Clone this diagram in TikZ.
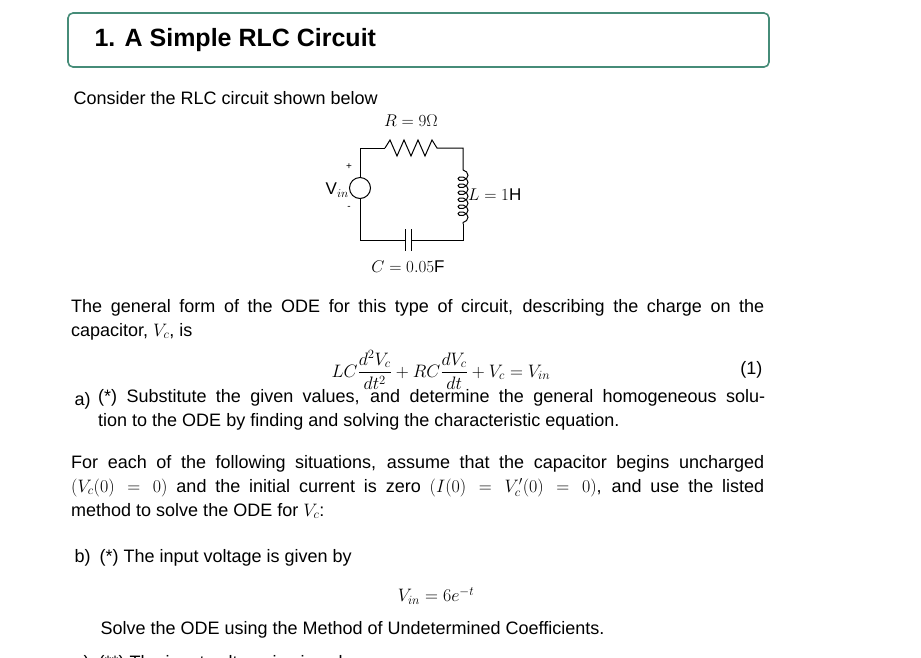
\documentclass[tikz,border=0pt]{standalone}
\usepackage{fix-cm}
\usepackage{amsmath}
\usepackage{fontspec}
\setmainfont{Liberation Sans}
\usetikzlibrary{decorations.pathmorphing}
\tikzset{
 para/.style={anchor=north west,inner sep=0pt,text width=693pt,align=justify,font=\fontsize{18}{24}\selectfont},
 txt/.style={font=\fontsize{18}{22}\selectfont},
 wire/.style={line width=1pt},
 lbl/.style={font=\fontsize{17}{19}\selectfont,inner sep=1pt}
}
\begin{document}
\begin{tikzpicture}[x=1pt,y=-1pt]
\useasboundingbox (0,0) rectangle (921,657);
\clip (0,0) rectangle (921,657);
\fill[white] (0,0) rectangle (921,657);
% title
\draw[rounded corners=5pt,line width=1.6pt,draw={rgb,255:red,70;green,140;blue,120}] (68,13) rectangle (769,67);
\node[anchor=west,font=\fontsize{25}{28}\selectfont\bfseries] (title) at (91,40) {1. A Simple RLC Circuit};
\node[anchor=west,txt] (cons) at (70,98) {Consider the RLC circuit shown below};
% circuit
\coordinate (tl) at (360,148); \coordinate (tr) at (463,148);
\coordinate (bl) at (360,240); \coordinate (br) at (463,240);
\node[circle,draw,line width=1pt,minimum size=21pt,inner sep=0pt] (src) at (360,188) {};
\draw[wire] (src.north) -- (tl) -- (385,148);
\draw[wire] (385,148) -- (390,140) -- (397,156) -- (404,140) -- (411,156) -- (418,140) -- (425,156) -- (432,140) -- (437,148) -- (tr) -- (463,170);
\draw[wire,decorate,decoration={coil,aspect=0.7,segment length=7pt,amplitude=5pt}] (463,170) -- (463,224);
\draw[wire] (463,224) -- (br) -- (411,240);
\draw[wire] (src.south) -- (bl) -- (405,240);
\draw[wire] (405,229) -- (405,251) (411,229) -- (411,251);
\node[lbl] (rl) at (411,121) {$R=9\Omega$};
\node[lbl,anchor=west] (ll) at (467,195) {$L=1\mathrm{H}$};
\node[lbl] (cl) at (408,267) {$C=0.05\mathrm{F}$};
\node[lbl,anchor=east] (vl) at (350,190) {$\mathrm{V}_{in}$};
\node[font=\fontsize{10}{10}\selectfont] (pl) at (349,167) {+};
\node[font=\fontsize{10}{10}\selectfont] (ml) at (349,208) {-};
% text
\node[para] (p1) at (71,299) {The general form of the ODE for this type of circuit, describing the charge on the\linebreak capacitor, $V_c$, is};
\node[txt] (eq) at (441,370) {$\displaystyle LC\frac{d^2V_c}{dt^2}+RC\frac{dV_c}{dt}+V_c=V_{in}$};
\node[txt,anchor=east] (eqn) at (766,370) {(1)};
\node[anchor=west,txt] (a1) at (71,401) {a)};
\node[para,text width=667pt] (a2) at (98,389) {(*) Substitute the given values, and determine the general homogeneous solu-\linebreak tion to the ODE by finding and solving the characteristic equation.};
\node[para] (p2) at (71,455) {For each of the following situations, assume that the capacitor begins uncharged\linebreak $(V_c(0)=0)$ and the initial current is zero $(I(0)=V_c'(0)=0)$, and use the listed\linebreak method to solve the ODE for $V_c$:};
\node[anchor=west,txt] (b1) at (71,558) {b)\enspace(*) The input voltage is given by};
\node[txt] (beq) at (436,596) {$V_{in}=6e^{-t}$};
\node[anchor=west,txt] (b2) at (97,630) {Solve the ODE using the Method of Undetermined Coefficients.};
\node[anchor=west,txt] (c1) at (71,664) {c)\enspace(**) The input voltage is given by};
\end{tikzpicture}
\end{document}
